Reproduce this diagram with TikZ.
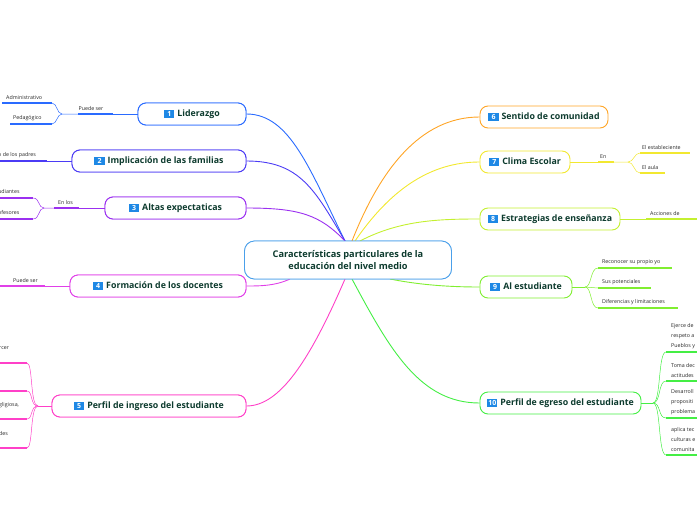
\documentclass[tikz,border=0pt]{standalone}
\usepackage{fontspec}
\setmainfont{Open Sans}
\begin{document}
\begin{tikzpicture}[x=1pt,y=-1pt,
  mn/.style={draw=#1,line width=0.9pt,rounded corners=8pt,fill=white,minimum height=22pt,inner xsep=6pt,font=\fontsize{8.8}{10}\selectfont\bfseries,text=txt},
  br/.style={draw=#1,line width=0.9pt},
  sl/.style={draw=#1,line width=0.5pt},
  ul/.style={draw=#1,line width=1.4pt},
  lb/.style={font=\fontsize{5.3}{6.6}\selectfont,text=gray!30!black,inner sep=0pt,anchor=south west,align=left}]
\definecolor{txt}{HTML}{0D3B2E}
\definecolor{bb}{HTML}{1E88E5}
\definecolor{c1}{HTML}{2A6BFF}\definecolor{c2}{HTML}{4B3BF5}\definecolor{c3}{HTML}{9B30F0}
\definecolor{c4}{HTML}{E040E8}\definecolor{c5}{HTML}{FF40C8}\definecolor{c6}{HTML}{FFA526}
\definecolor{c7}{HTML}{F2E830}\definecolor{c8}{HTML}{C4F030}\definecolor{c9}{HTML}{80EE30}
\definecolor{c10}{HTML}{44EE44}
\newcommand{\bdg}[1]{{\setlength\fboxsep{1.6pt}\colorbox{bb}{\makebox[7pt]{\color{white}\fontsize{7}{7}\selectfont #1}}}\hspace{3pt}}
\tikzset{cn/.style={draw=bb!80,line width=0.8pt,rounded corners=10pt,fill=white,minimum width=207pt,minimum height=38pt,align=center,font=\fontsize{9.2}{11.5}\selectfont\bfseries,text=txt}}
\useasboundingbox (0,0) rectangle (697,520);
\node[cn] (c) at (348,260) {Características particulares de la\\educación del nivel medio};
\node[mn=c1,minimum width=108pt] (n1) at (192,114) {\bdg{1}Liderazgo};
\node[mn=c2,minimum width=174pt] (n2) at (159,161) {\bdg{2}Implicación de las familias};
\node[mn=c3,minimum width=141pt] (n3) at (175.5,208) {\bdg{3}Altas expectaticas};
\node[mn=c4,minimum width=176pt] (n4) at (158,286) {\bdg{4}Formación de los docentes};
\node[mn=c5,minimum width=194pt] (n5) at (149,406) {\bdg{5}Perfil de ingreso del estudiante};
\node[mn=c6,minimum width=128pt] (n6) at (544,117) {\bdg{6}Sentido de comunidad};
\node[mn=c7,minimum width=90pt] (n7) at (525,162) {\bdg{7}Clima Escolar};
\node[mn=c8,minimum width=140pt] (n8) at (550,219) {\bdg{8}Estrategias de enseñanza};
\node[mn=c9,minimum width=92pt] (n9) at (526,287) {\bdg{9}Al estudiante};
\node[mn=c10,minimum width=161pt] (n10) at (560.5,403) {\bdg{10}Perfil de egreso del estudiante};
\coordinate (ct) at (345,241);
\coordinate (cb) at (345,279);
\draw[br=c1] (ct) .. controls (310,170) and (290,114) .. (n1.east);
\draw[br=c2] (ct) .. controls (315,190) and (300,161) .. (n2.east);
\draw[br=c3] (ct) .. controls (320,215) and (300,208) .. (n3.east);
\draw[br=c4] (290,279) .. controls (275,286) and (260,286) .. (n4.east);
\draw[br=c5] (cb) .. controls (310,360) and (280,406) .. (n5.east);
\draw[br=c6] (352,241) .. controls (380,170) and (420,117) .. (n6.west);
\draw[br=c7] (355,241) .. controls (390,190) and (430,162) .. (n7.west);
\draw[br=c8] (360,241) .. controls (400,220) and (440,219) .. (n8.west);
\draw[br=c9] (390,279) .. controls (420,285) and (450,287) .. (n9.west);
\draw[br=c10] (352,279) .. controls (390,350) and (420,403) .. (n10.west);
\node[cn] at (348,260) {Características particulares de la\\educación del nivel medio};
% 1
\coordinate (f1) at (62,114);
\draw[sl=c1] (n1.west) -- (113,114); \draw[ul=c1] (113,114) -- (78,114) node[lb,pos=1,yshift=3pt] {Puede ser};
\draw[sl=c1] (78,114) -- (f1) .. controls (57,114) and (57,103) .. (52,103);
\draw[sl=c1] (f1) .. controls (57,114) and (57,124) .. (52,124);
\draw[ul=c1] (52,103) -- (2,103); \node[lb] at (6,100) {Administrativo};
\draw[ul=c1] (52,124) -- (10,124); \node[lb] at (13,121) {Pedagógico};
% 2
\draw[sl=c2] (n2.west) -- (47,161); \draw[ul=c2] (47,161) -- (0,161); \node[lb] at (-2,158) {o de los padres};
% 3
\draw[sl=c3] (n3.west) -- (79,208); \draw[ul=c3] (79,208) -- (54,208); \node[lb] at (58,205) {En los};
\draw[sl=c3] (54,208) -- (44,208) .. controls (38,208) and (40,198) .. (33,198);
\draw[sl=c3] (44,208) .. controls (38,208) and (40,219) .. (33,219);
\draw[ul=c3] (33,198) -- (0,198); \node[lb] at (-2,194) {udiantes};
\draw[ul=c3] (33,219) -- (0,219); \node[lb] at (-2,215) {ofesores};
% 4
\draw[sl=c4] (n4.west) -- (45,286); \draw[ul=c4] (45,286) -- (0,286); \node[lb] at (13,283) {Puede ser};
% 5
\draw[sl=c5] (n5.west) -- (38,406);
\foreach \yy in {363,391,419,448}{
  \draw[sl=c5] (38,406) .. controls (30,406) and (33,\yy) .. (27,\yy);
  \draw[ul=c5] (27,\yy) -- (0,\yy);}
\node[lb] at (-1,350) {rcer};
\node[lb] at (-1,408) {gligiosa,};
\node[lb] at (-1,436) {des};
% 7
\draw[sl=c7] (n7.east) -- (598,162); \draw[ul=c7] (598,162) -- (614,162); \node[lb] at (600,159) {En};
\draw[sl=c7] (614,162) -- (628,162) .. controls (634,162) and (634,153) .. (640,153);
\draw[sl=c7] (628,162) .. controls (634,162) and (634,173) .. (640,173);
\draw[ul=c7] (640,153) -- (690,153); \node[lb] at (642,150) {El estableciente};
\draw[ul=c7] (640,173) -- (665,173); \node[lb] at (642,170) {El aula};
% 8
\draw[sl=c8] (n8.east) -- (646,219); \draw[ul=c8] (646,219) -- (697,219); \node[lb] at (650,216) {Acciones de};
% 9
\draw[sl=c9] (n9.east) -- (585,287);
\draw[sl=c9] (585,287) .. controls (592,287) and (590,268) .. (598,268);
\draw[sl=c9] (585,287) -- (598,288);
\draw[sl=c9] (585,287) .. controls (592,287) and (590,308) .. (598,308);
\draw[ul=c9] (598,268) -- (672,268); \node[lb] at (602,265) {Reconocer su propio yo};
\draw[ul=c9] (598,288) -- (651,288); \node[lb] at (602,285) {Sus potenciales};
\draw[ul=c9] (598,308) -- (678,308); \node[lb] at (602,305) {Diferencias y limitaciones};
% 10
\draw[sl=c10] (n10.east) -- (653,403);
\foreach \yy in {352,381,418,455}{
  \draw[sl=c10] (653,403) .. controls (661,403) and (658,\yy) .. (666,\yy);
  \draw[ul=c10] (666,\yy) -- (697,\yy);}
\node[lb,font=\fontsize{5.3}{10}\selectfont] at (671,349) {Ejerce de\\respeto a\\Pueblos y};
\node[lb,font=\fontsize{5.3}{10}\selectfont] at (671,378) {Toma dec\\actitudes};
\node[lb,font=\fontsize{5.3}{10}\selectfont] at (671,415) {Desarroll\\propositi\\problema};
\node[lb,font=\fontsize{5.3}{10}\selectfont] at (671,452) {aplica tec\\culturas e\\comunita};
\node[mn=c1,minimum width=108pt] at (192,114) {\bdg{1}Liderazgo};
\node[mn=c2,minimum width=174pt] at (159,161) {\bdg{2}Implicación de las familias};
\node[mn=c3,minimum width=141pt] at (175.5,208) {\bdg{3}Altas expectaticas};
\node[mn=c4,minimum width=176pt] at (158,286) {\bdg{4}Formación de los docentes};
\node[mn=c5,minimum width=194pt] at (149,406) {\bdg{5}Perfil de ingreso del estudiante};
\end{tikzpicture}
\end{document}
